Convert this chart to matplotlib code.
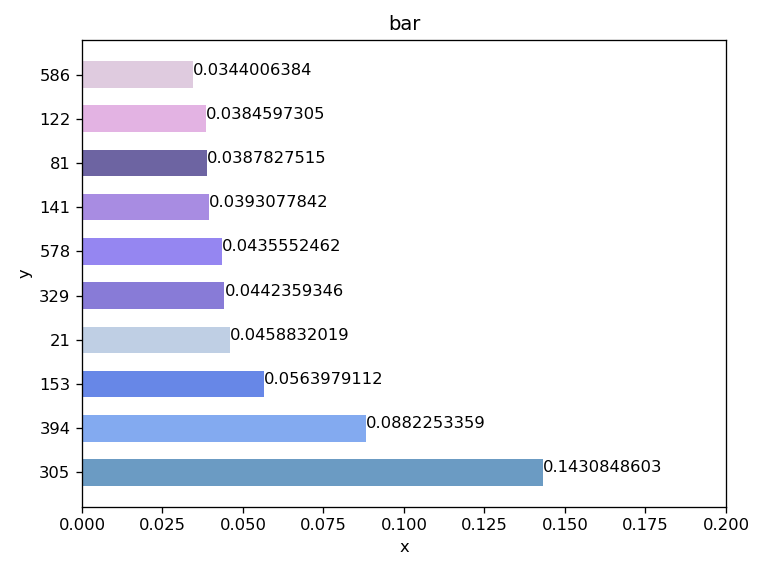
import matplotlib
matplotlib.use("Agg")
import matplotlib.pyplot as plt

labels = ['305', '394', '153', '21', '329', '578', '141', '81', '122', '586']
values = [0.1430848603, 0.0882253359, 0.0563979112, 0.0458832019, 0.0442359346,
          0.0435552462, 0.0393077842, 0.0387827515, 0.0384597305, 0.0344006384]
colors = ['steelblue', 'cornflowerblue', 'royalblue', 'lightsteelblue', 'slateblue',
          'mediumslateblue', 'mediumpurple', 'darkslateblue', 'plum', 'thistle']

# original was rendered at a higher dpi, so keep the same pixel size at dpi 118
dpi = 118
fig = plt.figure(figsize=(759 / dpi, 562 / dpi), dpi=dpi)
fig.subplots_adjust(left=0.108, right=0.9565, top=0.9288, bottom=0.0979)
ax = fig.add_subplot(111)

pos = list(range(len(labels)))
ax.barh(pos, values, height=0.6, color=colors, alpha=0.8)
for i, v in enumerate(values):
    ax.text(v, i, '%.10f' % v, ha='left', va='baseline')

ax.set_yticks(pos)
ax.set_yticklabels(labels)
ax.set_xlim(0, 0.2)
ax.set_title('bar')
ax.set_xlabel('x')
ax.set_ylabel('y')

fig.savefig('out.png', dpi=dpi)
